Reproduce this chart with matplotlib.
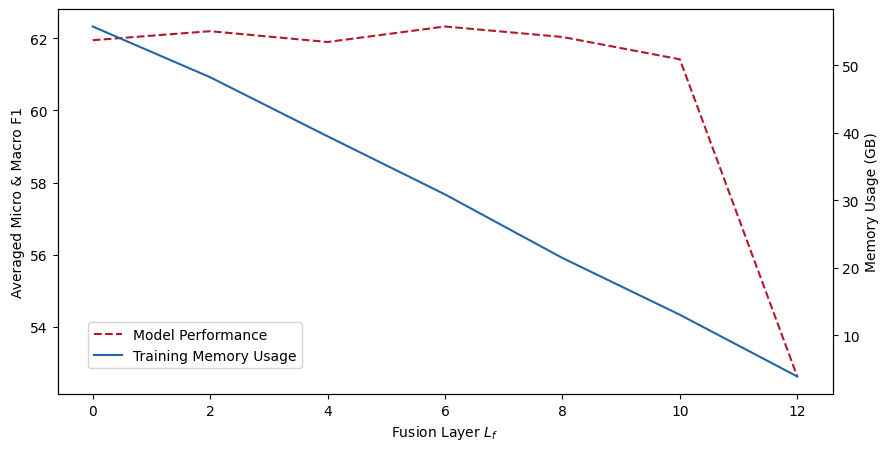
import matplotlib
matplotlib.use("Agg")
import matplotlib.pyplot as plt

layers = [0, 2, 4, 6, 8, 10, 12]
performance = [61.95, 62.20, 61.90, 62.33, 62.04, 61.42, 52.62]
memory = [55.73, 48.22, 39.48, 30.88, 21.47, 13.07, 3.93]

fig, ax1 = plt.subplots(figsize=(8.88, 4.52), dpi=100)
fig.subplots_adjust(left=57.5/888, right=832.5/888, top=1 - 10/452, bottom=1 - 395/452)

l1, = ax1.plot(layers, performance, linestyle='--', color='#b2182b', label='Model Performance')
ax1.set_xlabel('Fusion Layer $L_f$')
ax1.set_ylabel('Averaged Micro & Macro F1')
ax1.set_xticks([0, 2, 4, 6, 8, 10, 12])

ax2 = ax1.twinx()
l2, = ax2.plot(layers, memory, linestyle='-', color='#2166ac', label='Training Memory Usage')
ax2.set_ylabel('Memory Usage (GB)')

ax1.legend(handles=[l1, l2], loc='lower left', bbox_to_anchor=(0.031, 0.049))

fig.savefig('out.png', dpi=100)
